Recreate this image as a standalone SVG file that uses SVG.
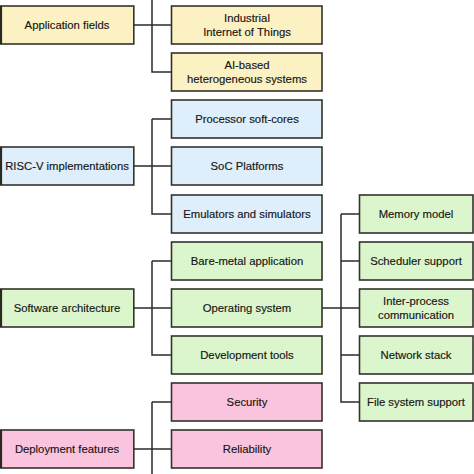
<svg xmlns="http://www.w3.org/2000/svg" width="474" height="474" viewBox="0 0 474 474">
<style>
rect{stroke:#33332b;stroke-width:1.6}
.y{fill:#fcf1c3}.b{fill:#deeefa}.g{fill:#dbf5cc}.p{fill:#fbc4de}
text{font-family:"Liberation Sans",Arial,sans-serif;font-size:11.3px;fill:#151515;text-anchor:middle;stroke:#151515;stroke-width:0.15}
#connectors path{fill:none;stroke:#2b2b2b;stroke-width:1.5}
</style>
<rect width="474" height="474" fill="#ffffff" style="stroke:none"/>
<g id="connectors">
<path d="M134 25H171M152 0V72H171"/>
<path d="M134 166H171M152 119V214H171M152 119H171"/>
<path d="M134 308H171M152 261V355H171M152 261H171"/>
<path d="M134 449H171M152 402V474M152 402H171"/>
<path d="M322 308H359M341 214V402H359M341 214H359M341 261H359M341 355H359"/>
</g>
<g id="app-fields"><rect class="y" x="0.8" y="6" width="133" height="38"/><line x1="1" y1="6" x2="1" y2="44" stroke="#2a2a22" stroke-width="2.2"/><text x="67" y="29">Application fields</text></g>
<g id="iiot"><rect class="y" x="171.5" y="6" width="150.5" height="38"/><text x="247" y="22">Industrial</text><text x="247" y="36">Internet of Things</text></g>
<g id="ai-based"><rect class="y" x="171.5" y="53" width="150.5" height="38"/><text x="247" y="69">AI-based</text><text x="247" y="83">heterogeneous systems</text></g>
<g id="riscv"><rect class="b" x="0.8" y="147" width="133" height="38"/><line x1="1" y1="147" x2="1" y2="185" stroke="#2a2a22" stroke-width="2.2"/><text x="67" y="170">RISC-V implementations</text></g>
<g id="softcores"><rect class="b" x="171.5" y="100" width="150.5" height="38"/><text x="247" y="123">Processor soft-cores</text></g>
<g id="soc"><rect class="b" x="171.5" y="147" width="150.5" height="38"/><text x="247" y="170">SoC Platforms</text></g>
<g id="emulators"><rect class="b" x="171.5" y="195" width="150.5" height="38"/><text x="247" y="218">Emulators and simulators</text></g>
<g id="software"><rect class="g" x="0.8" y="289" width="133" height="38"/><line x1="1" y1="289" x2="1" y2="327" stroke="#2a2a22" stroke-width="2.2"/><text x="67" y="312">Software architecture</text></g>
<g id="baremetal"><rect class="g" x="171.5" y="242" width="150.5" height="38"/><text x="247" y="265">Bare-metal application</text></g>
<g id="os"><rect class="g" x="171.5" y="289" width="150.5" height="38"/><text x="247" y="312">Operating system</text></g>
<g id="devtools"><rect class="g" x="171.5" y="336" width="150.5" height="38"/><text x="247" y="359">Development tools</text></g>
<g id="memory"><rect class="g" x="359.5" y="195" width="113.5" height="38"/><text x="416" y="218">Memory model</text></g>
<g id="scheduler"><rect class="g" x="359.5" y="242" width="113.5" height="38"/><text x="416" y="265">Scheduler support</text></g>
<g id="ipc"><rect class="g" x="359.5" y="289" width="113.5" height="38"/><text x="416" y="305">Inter-process</text><text x="416" y="319">communication</text></g>
<g id="network"><rect class="g" x="359.5" y="336" width="113.5" height="38"/><text x="416" y="359">Network stack</text></g>
<g id="filesystem"><rect class="g" x="359.5" y="383" width="113.5" height="38"/><text x="416" y="406">File system support</text></g>
<g id="deployment"><rect class="p" x="0.8" y="430" width="133" height="38"/><line x1="1" y1="430" x2="1" y2="468" stroke="#2a2a22" stroke-width="2.2"/><text x="67" y="453">Deployment features</text></g>
<g id="security"><rect class="p" x="171.5" y="383" width="150.5" height="38"/><text x="247" y="406">Security</text></g>
<g id="reliability"><rect class="p" x="171.5" y="430" width="150.5" height="38"/><text x="247" y="453">Reliability</text></g>
</svg>
